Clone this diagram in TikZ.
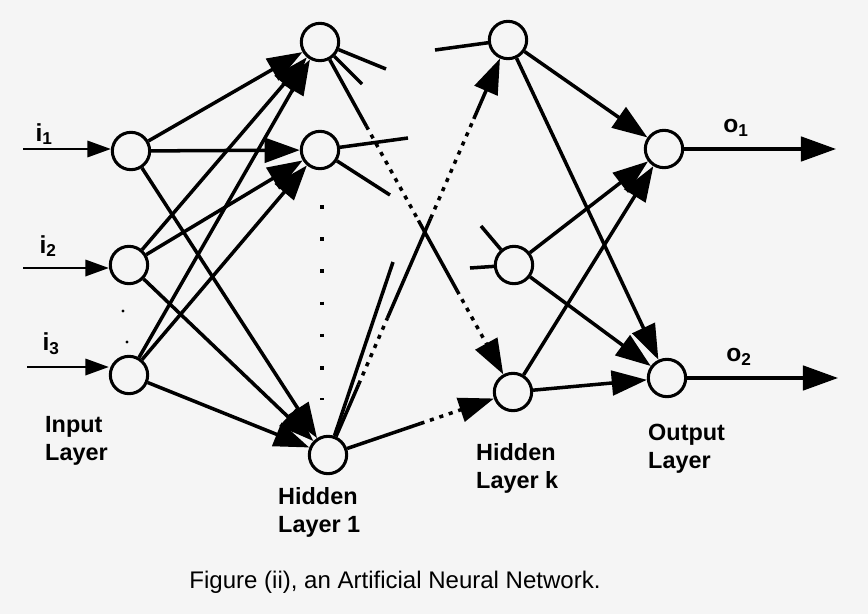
\documentclass[tikz,border=0pt]{standalone}
\usepackage{fontspec}
\setmainfont{Liberation Sans}
\usetikzlibrary{arrows.meta,calc}
\begin{document}
\begin{tikzpicture}[x=0.03cm,y=-0.03cm,
  neuron/.style={circle,draw,line width=2.6pt,minimum size=1.12cm,inner sep=0pt},
  link/.style={line width=3pt},
  arr/.style={link,-{Triangle[length=30pt,width=21pt]}},
  dots/.style={link,dash pattern=on 3.5pt off 5pt},
  darr/.style={dots,-{Triangle[length=30pt,width=21pt]}},
  inarr/.style={line width=1.8pt,-{Triangle[length=20pt,width=14pt]}},
  lbl/.style={font=\fontsize{20}{24}\selectfont\bfseries,align=left,anchor=north west,inner sep=0pt},
  sub/.style={font=\fontsize{21}{22}\selectfont\bfseries,inner sep=0pt}]
\useasboundingbox[fill=white!96!black] (0,0) rectangle (868,614);
% nodes
\node[neuron] (i1) at (131,151) {};
\node[neuron] (i2) at (129,265) {};
\node[neuron] (i3) at (129,375) {};
\node[neuron] (h11) at (320,42) {};
\node[neuron] (h12) at (320,150) {};
\node[neuron] (h13) at (328,455) {};
\node[neuron] (hk1) at (508,40) {};
\node[neuron] (hk2) at (514,265) {};
\node[neuron] (hk3) at (513,392) {};
\node[neuron] (o1) at (664,149) {};
\node[neuron] (o2) at (667,378) {};
% inputs and outputs
\coordinate (s1) at (23,149);
\coordinate (s2) at (23,268);
\coordinate (s3) at (27,367);
\coordinate (e1) at (836,149);
\coordinate (e2) at (838,378);
\draw[inarr] (s1) -- (i1.west |- s1);
\draw[inarr] (s2) -- (i2.west |- s2);
\draw[inarr] (s3) -- (i3.west |- s3);
\draw[arr,line width=2.6pt] (o1) -- (e1);
\draw[arr,line width=2.6pt] (o2) -- (e2);
\node[sub] (li1) at (44,134) {i\textsubscript{1}};
\node[sub] (li2) at (48,246) {i\textsubscript{2}};
\node[sub] (li3) at (51,344) {i\textsubscript{3}};
\node[sub] (lo1) at (736,128) {o\textsubscript{1}};
\node[sub] (lo2) at (739,357) {o\textsubscript{2}};
% input -> hidden 1
\foreach \a in {i1,i2,i3}
  \foreach \b in {h11,h12,h13}
    \draw[arr] (\a) -- (\b);
% partial links
\coordinate (p1) at (386,69);
\coordinate (p2) at (362,84);
\coordinate (p3) at (408,138);
\coordinate (p4) at (390,195);
\coordinate (p5) at (393,262);
\coordinate (p6) at (435,50);
\coordinate (p7) at (470,268);
\coordinate (p8) at (481,226);
\draw[link] (h11) -- (p1);
\draw[link] (h11) -- (p2);
\draw[link] (h12) -- (p3);
\draw[link] (h12) -- (p4);
\draw[link] (h13) -- (p5);
\draw[link] (p6) -- (hk1);
\draw[link] (p7) -- (hk2);
\draw[link] (p8) -- (hk2);
% interrupted links
\draw[link] (h11) -- ($(h11)!0.24!(hk3)$);
\draw[dots] ($(h11)!0.24!(hk3)$) -- ($(h11)!0.51!(hk3)$);
\draw[link] ($(h11)!0.51!(hk3)$) -- ($(h11)!0.71!(hk3)$);
\draw[darr] ($(h11)!0.71!(hk3)$) -- (hk3);
\draw[link] (h13) -- ($(h13)!0.17!(hk1)$);
\draw[dots] ($(h13)!0.17!(hk1)$) -- ($(h13)!0.33!(hk1)$);
\draw[link] ($(h13)!0.33!(hk1)$) -- ($(h13)!0.57!(hk1)$);
\draw[dots] ($(h13)!0.57!(hk1)$) -- ($(h13)!0.81!(hk1)$);
\draw[arr] ($(h13)!0.81!(hk1)$) -- (hk1);
\draw[link] (h13) -- ($(h13)!0.5!(hk3)$);
\draw[darr] ($(h13)!0.5!(hk3)$) -- (hk3);
% hidden k -> output
\foreach \a in {hk1,hk2,hk3}
  \foreach \b in {o1,o2}
    \draw[arr] (\a) -- (\b);
% ellipsis dots
\coordinate (d1) at (322,205);
\coordinate (d2) at (322,400);
\draw[line width=3pt,dash pattern=on 3pt off 24.5pt] (d1) -- (d2);
\fill (123,311) circle (1.6);
\fill (127,342) circle (1.6);
% labels
\node[lbl] (l1) at (45,416) {Input\\Layer};
\node[lbl] (l2) at (278,487) {Hidden\\Layer 1};
\node[lbl] (l3) at (476,443) {Hidden\\Layer k};
\node[lbl] (l4) at (648,424) {Output\\Layer};
\node[font=\fontsize{20.5}{24}\selectfont,inner sep=0pt] (cap) at (395,582) {Figure (ii), an Artificial Neural Network.};
\end{tikzpicture}
\end{document}
